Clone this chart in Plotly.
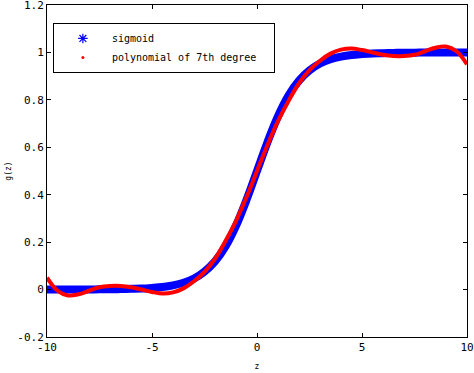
import plotly.graph_objects as go

# z grid (read at 0.5 steps)
z_values = [-10, -9.5, -9, -8.5, -8, -7.5, -7, -6.5, -6, -5.5, -5, -4.5, -4, -3.5, -3, -2.5, -2, -1.5, -1, -0.5,
            0, 0.5, 1, 1.5, 2, 2.5, 3, 3.5, 4, 4.5, 5, 5.5, 6, 6.5, 7, 7.5, 8, 8.5, 9, 9.5, 10]

# sigmoid values
sigmoid_values = [0.000, 0.000, 0.000, 0.000, 0.000, 0.001, 0.001, 0.002, 0.003, 0.004, 0.007, 0.011, 0.018, 0.029,
                  0.047, 0.076, 0.119, 0.182, 0.269, 0.378,
                  0.500, 0.622, 0.731, 0.818, 0.881, 0.924, 0.953, 0.971, 0.982, 0.989, 0.993, 0.996, 0.997, 0.998,
                  0.999, 0.999, 1.000, 1.000, 1.000, 1.000, 1.000]

# 7th-degree polynomial values
poly_values = [0.050, -0.005, -0.025, -0.020, -0.005, 0.010, 0.015, 0.015, 0.010, 0.000, -0.010, -0.017, -0.012,
               0.005, 0.035, 0.075, 0.130, 0.205, 0.290, 0.390,
               0.500, 0.610, 0.710, 0.795, 0.870, 0.925, 0.965, 0.995, 1.012, 1.017, 1.010, 1.000, 0.990, 0.985,
               0.985, 0.990, 1.005, 1.020, 1.025, 1.005, 0.950]

x_ticks = [-10, -5, 0, 5, 10]
y_ticks = [-0.2, 0, 0.2, 0.4, 0.6, 0.8, 1, 1.2]
y_tick_text = ["-0.2", "0", "0.2", "0.4", "0.6", "0.8", "1", "1.2"]

FONT = "DejaVu Sans Mono"
BLUE = "#0000ff"
RED = "#ff0000"

fig = go.Figure()

# blue sigmoid band (dense asterisks -> thick line)
fig.add_trace(go.Scatter(x=z_values, y=sigmoid_values, mode="lines",
                         line=dict(color=BLUE, width=8, shape="spline"),
                         showlegend=False, hoverinfo="skip"))
# red polynomial
fig.add_trace(go.Scatter(x=z_values, y=poly_values, mode="lines",
                         line=dict(color=RED, width=4, shape="spline"),
                         showlegend=False, hoverinfo="skip"))
# legend entries
fig.add_trace(go.Scatter(x=[None], y=[None], mode="markers", name="sigmoid",
                         marker=dict(symbol="asterisk-open", size=8, color=BLUE,
                                     line=dict(color=BLUE, width=1.2))))
fig.add_trace(go.Scatter(x=[None], y=[None], mode="markers",
                         name="polynomial of 7th degree\u00a0\u00a0",
                         marker=dict(symbol="circle", size=3, color=RED)))

axis_common = dict(showgrid=False, zeroline=False, showline=True, linecolor="black", linewidth=1,
                   mirror="ticks", ticks="inside", ticklen=4, tickcolor="black", automargin=False,
                   ticklabeloverflow="allow",
                   tickfont=dict(family=FONT, size=11, color="black"))

fig.update_xaxes(range=[-10, 10], tickvals=x_ticks, ticktext=[str(v) for v in x_ticks],
                 title=dict(text="z", font=dict(family=FONT, size=8, color="black"), standoff=10),
                 **axis_common)
fig.update_yaxes(range=[-0.2, 1.2], tickvals=y_ticks, ticktext=y_tick_text,
                 title=dict(text="g(z)", font=dict(family=FONT, size=8, color="black"), standoff=4),
                 **axis_common)

fig.update_layout(
    width=474, height=373,
    margin=dict(l=47, r=7, t=5, b=36),
    paper_bgcolor="white", plot_bgcolor="white",
    font=dict(family=FONT, size=11, color="black"),
    legend=dict(x=0.014, y=0.946, xanchor="left", yanchor="top",
                bgcolor="white", bordercolor="black", borderwidth=1,
                font=dict(family=FONT, size=10, color="black"),
                tracegroupgap=0, itemwidth=48),
)

fig.write_html("out.html", config={"displayModeBar": False},
               post_script="document.body.style.margin='0px';document.body.style.overflow='hidden';")
